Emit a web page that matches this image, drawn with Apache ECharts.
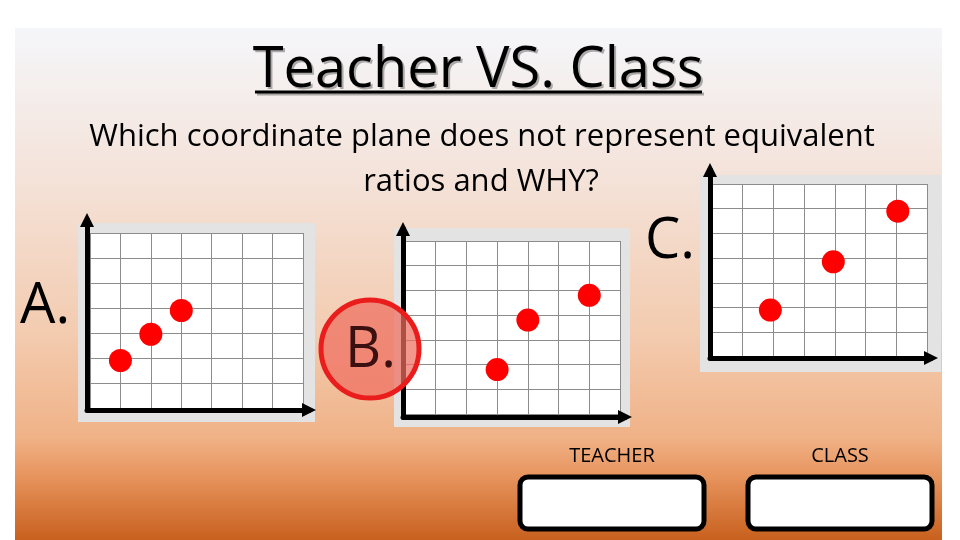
<!DOCTYPE html>
<html>

<head>
    <meta charset="utf-8">
    <title>Teacher VS. Class</title>
    <script src="https://cdn.jsdelivr.net/npm/echarts@6.0.0/dist/echarts.min.js"></script>
    <style>
        html, body { margin: 0; padding: 0; background: #fff; }
    </style>
</head>

<body>
    <div id="chart" style="width: 960px; height: 540px;"></div>

    <script type="text/javascript">
        // the three coordinate planes and their points [x, y]
        var planeNames = ['A.', 'B.', 'C.'];
        var pointsA = [[1, 1.9], [2, 2.95], [3, 3.9]];
        var pointsB = [[3, 1.8], [4, 3.8], [6, 4.8]];
        var pointsC = [[1.9, 1.9], [3.95, 3.85], [6.05, 5.9]];
        var gridTicks = [0, 7];      // min / max of every plane, one cell per unit
        var titleText = 'Teacher VS. Class';
        var questionLines = ['Which coordinate plane does not represent equivalent', 'ratios and WHY?'];
        var answerLabels = ['TEACHER', 'CLASS'];

        var FONT = '"Open Sans", "Noto Sans", sans-serif';

        // pixel boxes of the white gridded area, and of the arrow axes
        var plotBoxes = [
            { left: 90, top: 233, width: 213, height: 175 },
            { left: 405, top: 241, width: 215, height: 173 },
            { left: 712, top: 184, width: 215, height: 173 }
        ];
        var axisBoxes = [
            { left: 87, top: 220, width: 222, height: 190 },
            { left: 403, top: 229, width: 222, height: 188 },
            { left: 710, top: 170, width: 221, height: 188 }
        ];
        var panels = [
            [78, 223, 237, 199],
            [394, 228, 236, 199],
            [700, 175, 241, 197]
        ];
        var allPoints = [pointsA, pointsB, pointsC];

        var grids = [], xAxes = [], yAxes = [], series = [];

        plotBoxes.forEach(function (b, i) {
            grids.push(Object.assign({ show: true, backgroundColor: '#ffffff', borderWidth: 0 }, b));
            var valueAxis = {
                type: 'value', gridIndex: i, min: gridTicks[0], max: gridTicks[1], interval: 1,
                axisLine: { show: false }, axisTick: { show: false }, axisLabel: { show: false },
                splitLine: { show: true, lineStyle: { color: '#8c8c8c', width: 1 } }
            };
            xAxes.push(Object.assign({}, valueAxis));
            yAxes.push(Object.assign({}, valueAxis));
            series.push({
                name: planeNames[i], type: 'scatter', xAxisIndex: i, yAxisIndex: i,
                symbolSize: 23, itemStyle: { color: '#ff0000', opacity: 1 },
                data: allPoints[i]
            });
        });

        axisBoxes.forEach(function (b, i) {
            var gi = grids.length;
            grids.push(Object.assign({ show: false }, b));
            var arrowAxis = {
                type: 'value', gridIndex: gi, min: 0, max: 1,
                axisLine: {
                    show: true, symbol: ['none', 'triangle'], symbolSize: [14, 14],
                    lineStyle: { color: '#000', width: 5 }
                },
                axisTick: { show: false }, axisLabel: { show: false }, splitLine: { show: false }
            };
            xAxes.push(Object.assign({}, arrowAxis));
            yAxes.push(Object.assign({}, arrowAxis));
        });

        function txt(x, y, s, size, color, z) {
            return {
                type: 'text', x: x, y: y, z: z || 5, silent: true,
                style: {
                    text: s, font: size + 'px ' + FONT, fill: color,
                    align: 'center', verticalAlign: 'middle',
                    textAlign: 'center', textVerticalAlign: 'middle'
                }
            };
        }
        function leftTxt(x, y, s, size, color, z) {
            var t = txt(x, y, s, size, color, z);
            t.style.align = 'left';
            t.style.textAlign = 'left';
            return t;
        }

        var graphics = [
            {
                type: 'rect', z: -10, silent: true,
                shape: { x: 15, y: 28, width: 927, height: 512 },
                style: {
                    fill: new echarts.graphic.LinearGradient(0, 0, 0, 1, [
                        { offset: 0, color: '#f5f6fa' },
                        { offset: 0.3, color: '#f4e2d8' },
                        { offset: 0.6, color: '#f3cbaf' },
                        { offset: 0.8, color: '#f0b287' },
                        { offset: 0.87, color: '#e89660' },
                        { offset: 1, color: '#c8601e' }
                    ])
                }
            }
        ];
        panels.forEach(function (p) {
            graphics.push({
                type: 'rect', z: -5, silent: true,
                shape: { x: p[0], y: p[1], width: p[2], height: p[3] },
                style: { fill: '#e3e3e3' }
            });
        });

        // title with its shadow and underline
        graphics.push(txt(480, 73, titleText, 56, 'rgba(0,0,0,0.3)', 4));
        graphics.push({
            type: 'line', z: 4, silent: true,
            shape: { x1: 257, y1: 94, x2: 704, y2: 94 },
            style: { stroke: 'rgba(0,0,0,0.3)', lineWidth: 3 }
        });
        graphics.push(txt(478, 71, titleText, 56, '#000'));
        graphics.push({
            type: 'line', z: 5, silent: true,
            shape: { x1: 255, y1: 92, x2: 702, y2: 92 },
            style: { stroke: '#000', lineWidth: 3 }
        });

        graphics.push(txt(482, 137, questionLines[0], 31, '#000'));
        graphics.push(txt(481, 182, questionLines[1], 31, '#000'));

        graphics.push(leftTxt(20, 307, planeNames[0], 56, '#000'));
        graphics.push(leftTxt(345, 351, planeNames[1], 56, '#3a1010', 25));
        graphics.push(leftTxt(645, 242, planeNames[2], 56, '#000'));

        // highlight circle on B
        graphics.push({
            type: 'circle', z: 20, silent: true,
            shape: { cx: 370, cy: 349, r: 49 },
            style: { fill: 'rgba(238,110,95,0.72)', stroke: '#ea1c1c', lineWidth: 5 }
        });

        // answer boxes
        graphics.push(txt(612, 456, answerLabels[0], 20, '#000'));
        graphics.push(txt(840, 456, answerLabels[1], 20, '#000'));
        [[520, 477, 184, 52], [748, 477, 184, 52]].forEach(function (r) {
            graphics.push({
                type: 'rect', z: 5, silent: true,
                shape: { x: r[0], y: r[1], width: r[2], height: r[3], r: 8 },
                style: { fill: '#fff', stroke: '#000', lineWidth: 5 }
            });
        });

        var myChart = echarts.init(document.getElementById('chart'), null, { renderer: 'canvas' });
        myChart.setOption({
            backgroundColor: '#ffffff',
            animation: false,
            grid: grids,
            xAxis: xAxes,
            yAxis: yAxes,
            series: series,
            graphic: { elements: graphics }
        });
    </script>
</body>

</html>
